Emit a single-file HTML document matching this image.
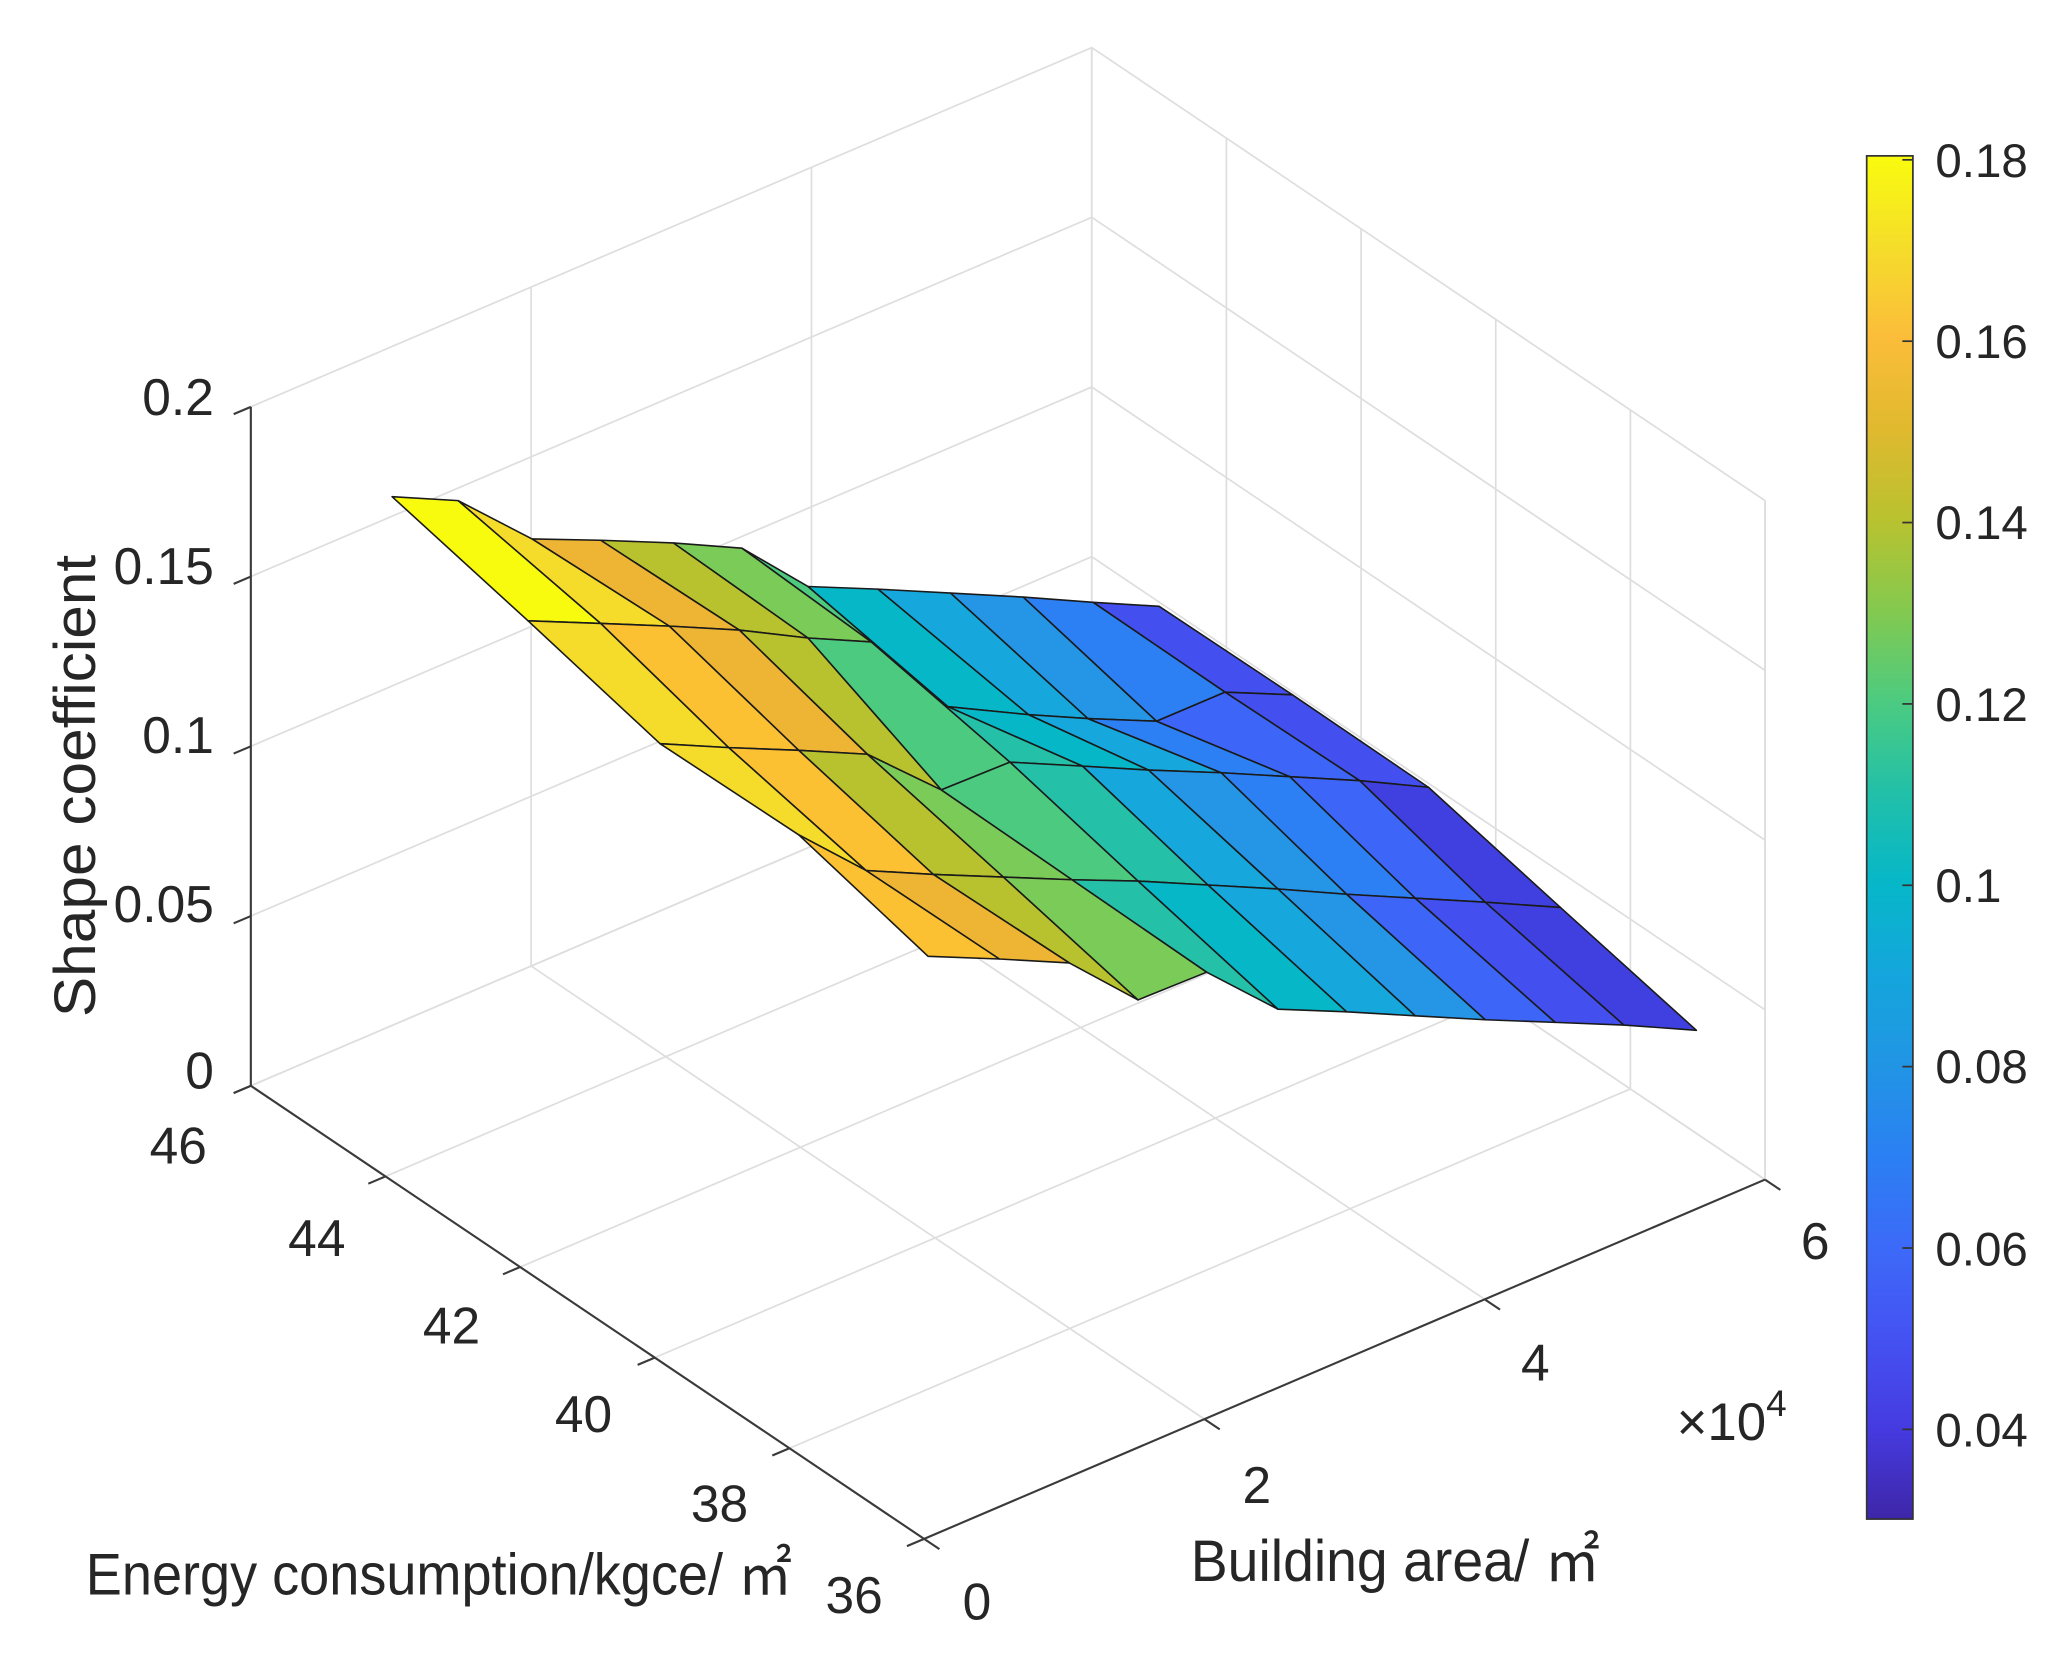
<!DOCTYPE html>
<html><head><meta charset="utf-8"><style>
html,body{margin:0;padding:0;background:#fff;}
svg{display:block;}
text{font-family:"Liberation Sans","Noto Sans CJK SC",sans-serif;fill:#262626;}
</style></head><body>
<svg id="s" xmlns="http://www.w3.org/2000/svg" width="2070" height="1667" viewBox="0 0 1568 1262" preserveAspectRatio="none">
<defs>
<linearGradient id="cb" x1="0" y1="0" x2="0" y2="1">
<stop offset="0" stop-color="#f9fb0e"/>
<stop offset="0.0667" stop-color="#f5dd2a"/>
<stop offset="0.1333" stop-color="#fbbd3a"/>
<stop offset="0.2" stop-color="#e0b92f"/>
<stop offset="0.2667" stop-color="#b9c22f"/>
<stop offset="0.3333" stop-color="#84c94f"/>
<stop offset="0.4" stop-color="#4ccb80"/>
<stop offset="0.4667" stop-color="#22c0a8"/>
<stop offset="0.5333" stop-color="#06b7c8"/>
<stop offset="0.6" stop-color="#14a6dc"/>
<stop offset="0.6667" stop-color="#2195e4"/>
<stop offset="0.7333" stop-color="#2b80f3"/>
<stop offset="0.8" stop-color="#3c6af8"/>
<stop offset="0.8667" stop-color="#4552f2"/>
<stop offset="0.9333" stop-color="#453be0"/>
<stop offset="1" stop-color="#3e26a8"/>
</linearGradient>
</defs>
<g id="grid" stroke="#dedede" stroke-width="1.3" fill="none"></g>
<g id="surf" stroke="#1a1a1a" stroke-width="1.2" stroke-linejoin="round"></g>
<g id="axes" stroke="#3a3a3a" stroke-width="1.6" fill="none"></g>

<g font-size="39" text-anchor="end">
<text x="162" y="314">0.2</text>
<text x="162" y="442">0.15</text>
<text x="162" y="570">0.1</text>
<text x="162" y="698">0.05</text>
<text x="162" y="824">0</text>
</g>
<text font-size="44" transform="translate(72,595) rotate(-90)" text-anchor="middle" textLength="350" lengthAdjust="spacingAndGlyphs">Shape coefficient</text>
<g font-size="39" text-anchor="middle">
<text x="135" y="881">46</text>
<text x="240" y="951">44</text>
<text x="342" y="1017">42</text>
<text x="442" y="1084">40</text>
<text x="545" y="1152">38</text>
<text x="647" y="1221">36</text>
<text x="740" y="1226">0</text>
<text x="952" y="1138">2</text>
<text x="1163" y="1045">4</text>
<text x="1375" y="953">6</text>
</g>
<text x="1270" y="1090" font-size="40">×10<tspan font-size="28" dy="-18">4</tspan></text>
<text x="65" y="1207" font-size="44" textLength="535" lengthAdjust="spacingAndGlyphs">Energy consumption/kgce/ ㎡</text>
<text x="902" y="1197" font-size="44" textLength="310" lengthAdjust="spacingAndGlyphs">Building area/ ㎡</text>

<rect x="1414" y="118" width="35" height="1032" fill="url(#cb)" stroke="#333" stroke-width="1.3"/>
<g id="cbt" stroke="#333" stroke-width="1.3"></g>
<g font-size="36">
<text x="1466" y="134">0.18</text>
<text x="1466" y="271">0.16</text>
<text x="1466" y="408">0.14</text>
<text x="1466" y="546">0.12</text>
<text x="1466" y="683">0.1</text>
<text x="1466" y="820">0.08</text>
<text x="1466" y="958">0.06</text>
<text x="1466" y="1095">0.04</text>
</g>
</svg>
<script>
(function(){
var NS="http://www.w3.org/2000/svg";
function el(p,t,a){var e=document.createElementNS(NS,t);for(var k in a)e.setAttribute(k,a[k]);p.appendChild(e);return e;}
function line(g,x1,y1,x2,y2){el(g,"line",{x1:x1,y1:y1,x2:x2,y2:y2});}
function pl(g,pts){el(g,"polyline",{points:pts.map(function(p){return p.join(",")}).join(" ")});}
var G=document.getElementById("grid"),A=document.getElementById("axes"),S=document.getElementById("surf"),C=document.getElementById("cbt");
var H=514;
for(var i=0;i<=4;i++){var h=H*i/4;pl(G,[[190,822-h],[827,550-h],[1337,893-h]]);}
for(var i=0;i<=5;i++){var t=i/5;var px=190+510*t,py=822+343*t;
 if(i<5)line(G,px,py,px+637,py-272);
 line(G,px+637,py-272,px+637,py-272-H);}
for(var i=0;i<=3;i++){var s=i/3;var qx=700+637*s,qy=1165-272*s;
 if(i>0)line(G,qx,qy,qx-510,qy-343);
 line(G,qx-510,qy-343,qx-510,qy-343-H);}
line(G,1337,893,1337,893-H);
line(A,190,308,190,822);line(A,190,822,700,1165);line(A,700,1165,1337,893);
for(var i=0;i<=4;i++){var y=822-H*i/4;line(A,190,y,177,y+5.5);}
for(var i=0;i<=5;i++){var t=i/5;var px=190+510*t,py=822+343*t;line(A,px,py,px-13,py+5.5);}
for(var i=0;i<=3;i++){var s=i/3;var qx=700+637*s,qy=1165-272*s;line(A,qx,qy,qx+11.6,qy+7.8);}
for(var i=0;i<8;i++){var y=121+137.3*i;line(C,1441,y,1449,y);}
var N=[
[[297,376],[347,379],[403,408],[455,409],[510,411],[562,415],[612,444],[665,446],[720,449],[775,452],[828,456],[878,459]],
[[400,470],[455,472],[507,474],[560,477],[612,483],[660,486],[718,535],[779,541],[824,544],[876,546],[928,524],[979,526]],
[[500,563],[552,566],[605,568],[657,571],[713,598],[765,577],[820,580],[870,583],[925,585],[977,588],[1030,591],[1082,596]],
[[605,632],[656,659],[707,662],[760,664],[812,666],[862,667],[915,670],[968,673],[1020,677],[1072,680],[1125,683],[1182,687]],
[[703,724],[757,726],[810,729],[862,757],[914,736],[968,764],[1020,766],[1072,769],[1125,772],[1178,774],[1230,776],[1285,780]]];
var P=["#f9fb0e","#f5dc2a","#fbc132","#eeb535","#b8c22f","#7bcb58","#4ccb80","#25c0a8","#06b7c8","#16a8dc","#2595e6","#2c80f4","#3d66f8","#4350ef","#4040e0"];
for(var r=0;r<4;r++){for(var c=10;c>=0;c--){
 var idx=Math.round(c*1.25+r*0.5);if(idx>14)idx=14;
 var pts=[N[r][c],N[r][c+1],N[r+1][c+1],N[r+1][c]];
 el(S,"polygon",{points:pts.map(function(p){return p.join(",")}).join(" "),fill:P[idx]});
}}
})();
</script>
</body></html>
